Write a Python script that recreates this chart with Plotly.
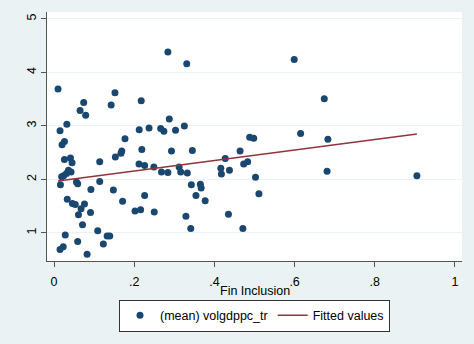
import plotly.graph_objects as go

fin_inclusion = [
    0.010, 0.152, 0.074, 0.1425, 0.065, 0.079, 0.032, 0.015, 0.177, 0.026,
    0.020, 0.169, 0.167, 0.153, 0.041, 0.026, 0.045, 0.114, 0.036, 0.0425,
    0.031, 0.024, 0.019, 0.016, 0.056, 0.059, 0.114, 0.092, 0.148, 0.033,
    0.171, 0.046, 0.053, 0.076, 0.0675, 0.061, 0.091, 0.071, 0.028, 0.109,
    0.1325, 0.139, 0.059, 0.123, 0.023, 0.015, 0.0825,
    0.284, 0.331, 0.2175, 0.2875, 0.2125, 0.237, 0.266, 0.274, 0.303, 0.325,
    0.219, 0.293, 0.345, 0.212, 0.226, 0.249, 0.268, 0.284, 0.312, 0.316,
    0.3325, 0.3425, 0.365, 0.367, 0.354, 0.377, 0.226, 0.202, 0.216, 0.250,
    0.329, 0.341,
    0.599, 0.488, 0.498, 0.464, 0.427, 0.483, 0.473, 0.416, 0.4375, 0.4175,
    0.5025, 0.511, 0.435, 0.471,
    0.674, 0.615, 0.683, 0.681, 0.905,
]
volgdppc_tr = [
    3.69, 3.62, 3.44, 3.39, 3.29, 3.20, 3.03, 2.91, 2.76, 2.71,
    2.65, 2.53, 2.49, 2.42, 2.40, 2.37, 2.31, 2.33, 2.17, 2.14,
    2.11, 2.07, 2.05, 1.90, 1.95, 1.92, 1.96, 1.81, 1.80, 1.63,
    1.59, 1.55, 1.53, 1.54, 1.45, 1.34, 1.38, 1.15, 0.96, 1.04,
    0.94, 0.94, 0.84, 0.79, 0.74, 0.69, 0.60,
    4.38, 4.16, 3.47, 3.13, 2.93, 2.96, 2.95, 2.90, 2.92, 3.00,
    2.56, 2.53, 2.54, 2.29, 2.26, 2.23, 2.14, 2.13, 2.23, 2.14,
    2.12, 1.90, 1.91, 1.84, 1.70, 1.60, 1.70, 1.41, 1.43, 1.39,
    1.31, 1.08,
    4.24, 2.79, 2.77, 2.53, 2.39, 2.33, 2.29, 2.21, 2.17, 2.10,
    2.04, 1.73, 1.35, 1.08,
    3.51, 2.86, 2.75, 2.15, 2.07,
]
fitted_x = [0.010, 0.905]
fitted_values = [1.97, 2.85]
x_tick_vals = [0, 0.2, 0.4, 0.6, 0.8, 1]
x_tick_text = ["0", ".2", ".4", ".6", ".8", "1"]
y_tick_vals = [1, 2, 3, 4, 5]
y_tick_text = ["1", "2", "3", "4", "5"]
x_title = "Fin Inclusion"

navy = "#1a476f"
maroon = "#90353b"
bg = "#eaf2f3"

fig = go.Figure()
fig.add_trace(go.Scatter(
    x=fin_inclusion, y=volgdppc_tr, mode="markers",
    marker=dict(color=navy, size=7, line=dict(width=0)),
    name="(mean) volgdppc_tr",
))
fig.add_trace(go.Scatter(
    x=fitted_x, y=fitted_values, mode="lines",
    line=dict(color=maroon, width=1.5),
    name="Fitted values",
))

fig.add_annotation(
    text=x_title, xref="paper", yref="paper", x=0.5, y=-0.12,
    xanchor="center", yanchor="middle", showarrow=False,
    font=dict(size=12.5, color="#000000"),
)

fig.update_layout(
    width=474, height=344,
    margin=dict(l=47, r=12, t=12, b=78),
    paper_bgcolor=bg, plot_bgcolor="white",
    font=dict(family="Liberation Sans, Arial, sans-serif", size=12, color="#000000"),
    showlegend=True,
    legend=dict(
        orientation="h", x=0.5, xanchor="center", y=-0.155, yanchor="top",
        bgcolor="white", bordercolor="#333333", borderwidth=1,
        font=dict(size=12.5, color="#000000"),
        itemwidth=30, tracegroupgap=0,
    ),
    xaxis=dict(
        range=[-0.0175, 1.0175],
        tickvals=x_tick_vals, ticktext=x_tick_text,
        ticks="outside", ticklen=5, tickcolor="#555555", tickwidth=1,
        ticklabelstandoff=4,
        showline=True, linecolor="#555555", linewidth=1,
        showgrid=False, zeroline=False,
        tickfont=dict(size=12.5),
    ),
    yaxis=dict(
        range=[0.474, 5.13],
        tickvals=y_tick_vals, ticktext=y_tick_text,
        ticks="outside", ticklen=5, tickcolor="#555555", tickwidth=1,
        showline=True, linecolor="#555555", linewidth=1,
        showgrid=True, gridcolor=bg, gridwidth=1,
        zeroline=False, tickangle=-90,
        tickfont=dict(size=12.5),
    ),
)

fig.write_html("out.html")
